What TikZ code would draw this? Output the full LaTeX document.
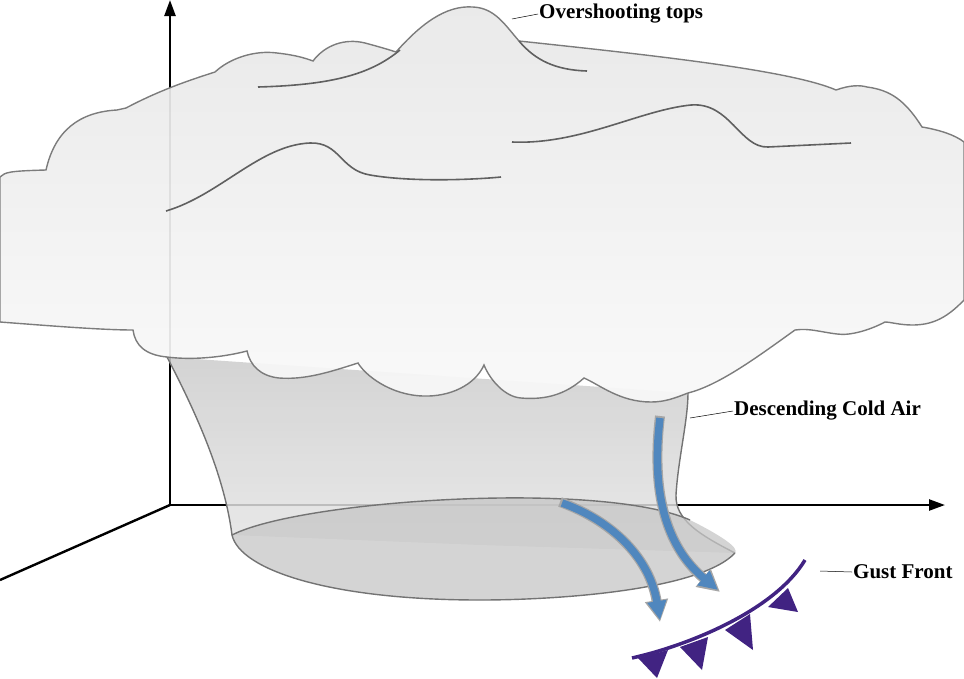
\documentclass[tikz,border=0pt]{standalone}
\usepackage{fontspec}
\setmainfont{Liberation Serif}
\usetikzlibrary{arrows.meta}
\begin{document}
\begin{tikzpicture}[x=1pt,y=-1pt,
  axis/.style={line width=2.4pt,-{Triangle[length=16pt,width=11pt]}},
  outl/.style={draw=gray!90!black,line width=1.4pt},
  inner/.style={draw=gray!75!black,line width=1.6pt},
  flowb/.style={line width=10pt,draw=gray!70,-{Triangle[length=22pt,width=22pt]}},
  flow/.style={line width=7.5pt,draw={rgb,255:red,80;green,135;blue,190},-{Triangle[length=19pt,width=18pt]}},
  lead/.style={draw=black,line width=0.5pt},
  lab/.style={font=\bfseries\fontsize{21}{24}\selectfont,anchor=west,inner sep=1pt},
  tri/.style={fill={rgb,255:red,65;green,35;blue,130}}]
\useasboundingbox (0,0) rectangle (964,678);
\coordinate (o) at (170,505);
\coordinate (yt) at (170,0);
\coordinate (xt) at (945,505);
\coordinate (dl) at (0,580);
\draw[axis] (o) -- (yt);
\draw[axis] (o) -- (xt);
\draw[line width=2.4pt] (o) -- (dl);
% column
\shade[top color=gray!40,bottom color=gray!20,opacity=0.85]
  (167,357) .. controls (200,420) and (225,480) .. (232,535)
  -- (480,545) -- (735,553) .. controls (700,535) and (675,520) .. (676,495)
  .. controls (678,460) and (688,420) .. (688,393) -- cycle;
\draw[outl] (167,357) .. controls (200,420) and (225,480) .. (232,535);
\draw[outl] (688,393) .. controls (688,420) and (678,460) .. (676,495)
  .. controls (675,520) and (700,535) .. (735,553);
% base
\fill[gray!45,opacity=0.75] (232,535) .. controls (300,500) and (600,480) .. (690,520)
  .. controls (720,535) and (740,548) .. (735,553)
  .. controls (700,590) and (560,600) .. (480,600)
  .. controls (330,600) and (240,570) .. (232,535) -- cycle;
\draw[outl] (232,535) .. controls (300,500) and (600,480) .. (690,520);
\draw[outl] (735,553) .. controls (700,590) and (560,600) .. (480,600)
  .. controls (330,600) and (240,570) .. (232,535);
% cloud
\shade[top color=gray!18,bottom color=gray!5,opacity=0.93,outl]
  (0,177) .. controls (5,172) and (10,171) .. (46,170)
  .. controls (55,130) and (80,112) .. (117,110) -- (126,108)
  .. controls (160,90) and (190,80) .. (215,72)
  .. controls (230,58) and (255,50) .. (277,53)
  .. controls (295,55) and (305,58) .. (313,61)
  .. controls (325,45) and (345,38) .. (365,43)
  .. controls (380,47) and (390,50) .. (396,52)
  .. controls (420,25) and (445,5) .. (473,7)
  .. controls (495,8) and (505,25) .. (519,41)
  .. controls (650,55) and (790,70) .. (836,90)
  .. controls (850,85) and (860,85) .. (867,87)
  .. controls (890,90) and (905,100) .. (922,127)
  .. controls (940,130) and (955,135) .. (964,142)
  -- (964,300)
  .. controls (945,320) and (930,325) .. (912,325)
  .. controls (900,325) and (890,322) .. (885,322)
  .. controls (870,330) and (850,336) .. (837,334)
  .. controls (820,332) and (810,328) .. (795,330)
  .. controls (760,355) and (720,385) .. (688,393)
  .. controls (675,398) and (665,402) .. (651,402)
  .. controls (620,402) and (600,385) .. (584,378)
  .. controls (565,395) and (545,400) .. (521,398)
  .. controls (505,397) and (490,380) .. (484,365)
  .. controls (475,385) and (450,397) .. (423,396)
  .. controls (390,395) and (365,375) .. (358,363)
  .. controls (330,372) and (305,380) .. (279,378)
  .. controls (260,376) and (250,365) .. (247,351)
  .. controls (220,358) and (190,360) .. (167,357)
  .. controls (145,355) and (135,345) .. (133,330)
  .. controls (100,330) and (40,325) .. (0,322) -- cycle;
% inner lines
\draw[inner] (258,87) .. controls (330,85) and (370,75) .. (400,50);
\draw[inner] (519,41) .. controls (535,60) and (555,70) .. (587,71);
\draw[inner] (512,142) .. controls (580,145) and (640,110) .. (691,105)
  .. controls (730,102) and (740,148) .. (768,147) -- (851,143);
\draw[inner] (166,211) .. controls (220,195) and (260,145) .. (310,143)
  .. controls (340,142) and (340,170) .. (370,175)
  .. controls (410,182) and (470,180) .. (501,177);
% flows
\draw[flowb] (660,416) .. controls (650,500) and (670,550) .. (720,592);
\draw[flow] (660,418) .. controls (650,500) and (670,550) .. (718,590);
\draw[flowb] (560,502) .. controls (615,522) and (650,560) .. (660,622);
\draw[flow] (562,503) .. controls (615,522) and (650,560) .. (660,620);
% gust front
\draw[line width=3.5pt,draw={rgb,255:red,65;green,35;blue,130}] (632,658) .. controls (690,645) and (775,610) .. (805,560);
\fill[tri] (638,658) -- (668,650) -- (657,678) -- cycle;
\fill[tri] (680,647) -- (708,637) -- (702,670) -- cycle;
\fill[tri] (725,630) -- (750,614) -- (753,650) -- cycle;
\fill[tri] (768,607) -- (788,588) -- (798,612) -- cycle;
% labels
\node[lab] (ot) at (538,14) {Overshooting tops};
\node[lab] (dc) at (733,411) {Descending Cold Air};
\node[lab] (gf) at (852,572) {Gust Front};
\coordinate (otp) at (512,19);
\coordinate (dcp) at (690,418);
\coordinate (gfp) at (820,571);
\draw[lead] (otp) -- (ot.west);
\draw[lead] (dcp) -- (dc.west);
\draw[lead] (gfp) -- (gf.west);
\end{tikzpicture}
\end{document}
